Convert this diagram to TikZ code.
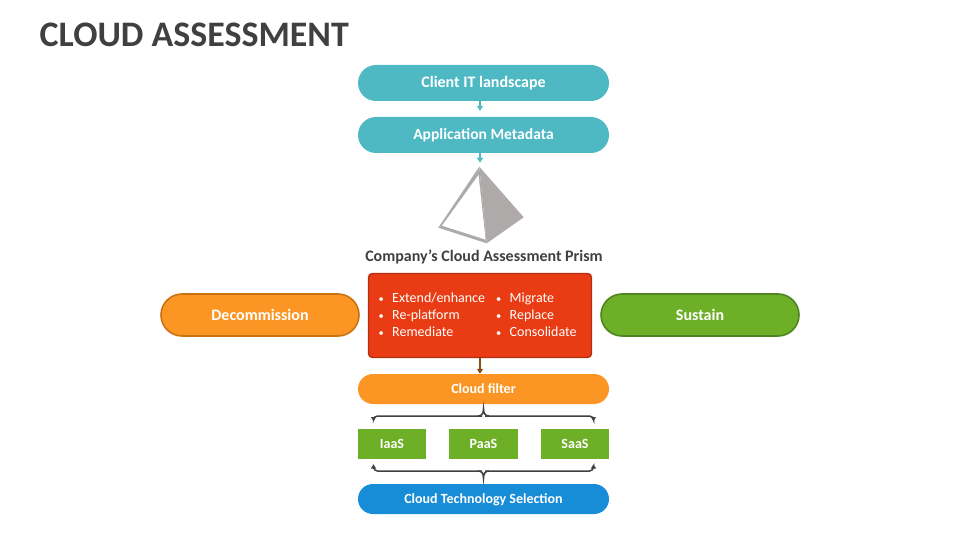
\documentclass[tikz,border=0pt]{standalone}
\usepackage{fontspec}
\setmainfont{Carlito}
\usetikzlibrary{arrows.meta}
\definecolor{teal1}{HTML}{4FB9C3}
\definecolor{orange1}{HTML}{FB9624}
\definecolor{orangeD}{HTML}{CB7210}
\definecolor{green1}{HTML}{6EAF28}
\definecolor{greenD}{HTML}{4F8520}
\definecolor{red1}{HTML}{E93C14}
\definecolor{redD}{HTML}{B22E10}
\definecolor{blue1}{HTML}{178DD8}
\definecolor{ink}{HTML}{404040}
\definecolor{prism}{HTML}{AEAAAA}
\definecolor{arrowbrown}{HTML}{8A4A10}
\tikzset{
  pillbox/.style={minimum width=251pt, minimum height=36pt, rounded corners=18pt, fill=teal1, text=white, inner sep=0pt, text height=16pt, text depth=6pt, font=\fontsize{16}{18}\selectfont\bfseries},
  smallpill/.style={minimum width=251pt, minimum height=30pt, rounded corners=15pt, text=white, inner sep=0pt, text height=14pt, text depth=4.5pt, font=\fontsize{14}{16}\selectfont\bfseries},
  sidepill/.style={minimum width=198pt, minimum height=42pt, rounded corners=21pt, line width=1.6pt, text=white, inner sep=0pt, font=\fontsize{16}{18}\selectfont\bfseries},
  service/.style={minimum height=30pt, fill=green1, text=white, inner sep=0pt, font=\fontsize{14}{16}\selectfont\bfseries},
  listcol/.style={text=white, inner sep=0pt, anchor=north west, align=left, font=\fontsize{14}{17}\selectfont},
  flow/.style={line width=1.2pt, -{Triangle[length=5pt,width=6pt]}},
  bracket/.style={line width=1.5pt, draw=ink, rounded corners=4pt},
  tipstart/.style={{Triangle[length=4pt,width=5pt]}-},
  tipend/.style={-{Triangle[length=4pt,width=5pt]}},
}
\newcommand{\itm}[1]{\makebox[13.5pt][l]{\raisebox{.5pt}{\scalebox{.75}{•}}}#1}
\begin{document}
\begin{tikzpicture}[x=1pt,y=-1pt]
\useasboundingbox (0,0) rectangle (960,540);
\fill[white] (0,0) rectangle (960,540);
\node[anchor=west, inner sep=0pt, text=ink, font=\fontsize{35.9}{40}\selectfont\bfseries] (title) at (39.5,34.5) {CLOUD ASSESSMENT};

\node[pillbox] (client) at (483.5,83) {Client IT landscape};
\node[pillbox, font=\fontsize{15.6}{18}\selectfont\bfseries] (meta) at (483.5,135) {Application Metadata};

% prism
\coordinate (apex) at (479.3,166.7);
\coordinate (pl) at (438.3,227.7);
\coordinate (pb) at (486.7,243.3);
\coordinate (pr) at (523.7,217.3);
\fill[prism] (apex) -- (pr) -- (pb) -- cycle;
\fill[prism] (apex) -- (pl) -- (pb) -- cycle;
\fill[white] (478.5,175) -- (442,225.7) -- (485.6,239.5) -- cycle;

\node[inner sep=0pt, text=ink, font=\fontsize{16}{18}\selectfont\bfseries] (prismlabel) at (484,257) {Company’s Cloud Assessment Prism};

\node[minimum width=223pt, minimum height=84pt, rounded corners=4pt, fill=red1, draw=redD, line width=1.4pt] (redbox) at (480,315.5) {};
\node[listcol] (left) at (378.5,293) {\itm{Extend/enhance}\\\itm{Re-platform}\\\itm{Remediate}};
\node[listcol] (right) at (496,293) {\itm{Migrate}\\\itm{Replace}\\\itm{Consolidate}};

\node[sidepill, fill=orange1, draw=orangeD] (decom) at (260,315) {Decommission};
\node[sidepill, fill=green1, draw=greenD] (sustain) at (700,315) {Sustain};

\node[smallpill, fill=orange1] (filter) at (483.5,389) {Cloud filter};
\node[service, minimum width=68pt] (iaas) at (392,444) {IaaS};
\node[service, minimum width=69pt] (paas) at (483.5,444) {PaaS};
\node[service, minimum width=68pt] (saas) at (575,444) {SaaS};
\node[smallpill, fill=blue1] (tech) at (483.5,499) {Cloud Technology Selection};

% connectors
\coordinate (axis) at (480,0);
\draw[flow, draw=teal1, fill=teal1, shorten >=6pt] (axis |- client.south) -- (axis |- meta.north);
\draw[flow, draw=teal1, fill=teal1, shorten >=4pt] (axis |- meta.south) -- (axis |- apex);
\draw[flow, draw=arrowbrown, fill=arrowbrown] (axis |- redbox.south) -- (axis |- filter.north);

% braces
\coordinate (tl) at (373.5,421);
\coordinate (tr) at (593.5,421);
\coordinate (tt) at (483.5,408.5);
\coordinate (bl) at (373.5,464.5);
\coordinate (br) at (593.5,464.5);
\coordinate (bt) at (483.5,478.5);
\draw[bracket, tipstart] (tl) -- (373.5,416) -- (482,416);
\draw[bracket, tipend] (485,416) -- (593.5,416) -- (tr);
\draw[ink, line width=1.5pt, line join=miter] (478,416) .. controls (481.5,416) and (483.5,414) .. (tt) .. controls (483.5,414) and (485.5,416) .. (489,416);
\draw[bracket, tipstart] (bl) -- (373.5,471) -- (482,471);
\draw[bracket, tipend] (485,471) -- (593.5,471) -- (br);
\draw[ink, line width=1.5pt, line join=miter] (478,471) .. controls (481.5,471) and (483.5,473) .. (bt) .. controls (483.5,473) and (485.5,471) .. (489,471);
\end{tikzpicture}
\end{document}
